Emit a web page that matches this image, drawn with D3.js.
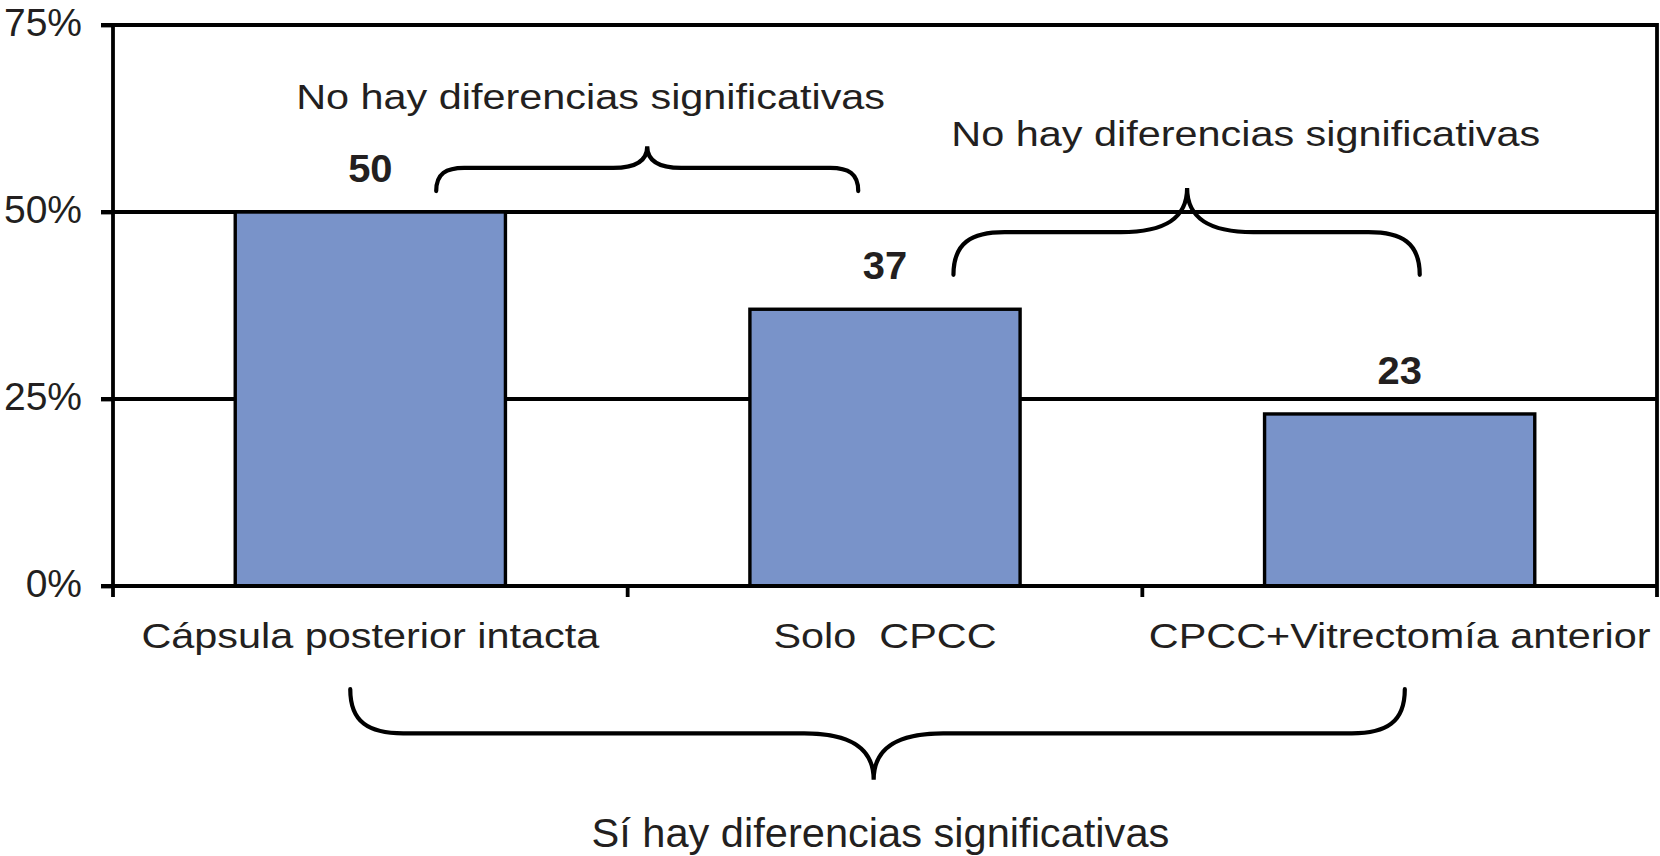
<!DOCTYPE html>
<html>
<head>
<meta charset="utf-8">
<script src="https://cdn.jsdelivr.net/npm/d3@7"></script>
<style>
  html, body { margin: 0; padding: 0; background: #fff; }
  svg { display: block; }
  text { font-family: "Liberation Sans", Arial, Helvetica, sans-serif; fill: #231f20; white-space: pre; }
</style>
</head>
<body>
<svg id="chart" width="1660" height="856"></svg>
<script>
// ---- data ----
const categories = ["Cápsula posterior intacta", "Solo  CPCC", "CPCC+Vitrectomía anterior"];
const values = [50, 37, 23];
const yTicks = [0, 25, 50, 75];
const yTickLabels = ["0%", "25%", "50%", "75%"];
// braces: span in category-index units, heights in value units (%)
const braceLabels = ["No hay diferencias significativas", "No hay diferencias significativas", "Sí hay diferencias significativas"];
const braceFrom = [0.128, 1.133, -0.039];
const braceTo = [0.948, 2.039, 2.010];
const braceTip = [0.538, 1.587, 0.978];
const braceEnd = [52.8, 41.6, -13.8];
const braceLine = [55.9, 47.3, -19.7];
const braceTipY = [58.8, 53.2, -25.9];
const braceLabelX = [0.428, 1.701, 0.991];
const braceLabelY = [63.8, 58.8, -34.9];

(function () {
// ---- layout ----
const svg = d3.select("#chart");
const pLeft = 113, pRight = 1657, pTop = 25, pBottom = 586;
const lw = 3.8;

const x = d3.scaleBand().domain(categories).range([pLeft, pRight]).paddingInner(0.475).paddingOuter(0.2375);
const y = d3.scaleLinear().domain([0, 75]).range([pBottom, pTop]);
const xIdx = d3.scaleLinear().domain([0, categories.length - 1])
  .range([x(categories[0]) + x.bandwidth() / 2, x(categories[categories.length - 1]) + x.bandwidth() / 2]);

// gridlines (with left ticks)
svg.append("g").selectAll("line").data(yTicks.filter(d => d > 0)).join("line")
  .attr("x1", pLeft - 12).attr("x2", pRight)
  .attr("y1", d => y(d)).attr("y2", d => y(d))
  .attr("stroke", "#000").attr("stroke-width", lw);

// y axis
const yAxis = d3.axisLeft(y).tickValues(yTicks).tickFormat((d, i) => yTickLabels[i]).tickSize(12).tickPadding(19);
const gy = svg.append("g").attr("transform", `translate(${pLeft},0)`).call(yAxis);
gy.select(".domain").remove();
gy.selectAll(".tick line").attr("stroke", "#000").attr("stroke-width", lw);
gy.selectAll(".tick text").attr("font-size", 39).attr("dy", "0.28em")
  .attr("font-family", "'Liberation Sans', Arial, sans-serif").style("fill", "#231f20");

// bars
svg.append("g").selectAll("rect").data(values).join("rect")
  .attr("x", (d, i) => x(categories[i]))
  .attr("y", d => y(d))
  .attr("width", x.bandwidth())
  .attr("height", d => y(0) - y(d))
  .attr("fill", "#7993c9")
  .attr("stroke", "#000").attr("stroke-width", 3.4);

// axes lines
svg.append("line").attr("x1", pLeft).attr("x2", pLeft).attr("y1", pTop - 1.9).attr("y2", pBottom + 11)
  .attr("stroke", "#000").attr("stroke-width", lw);
svg.append("line").attr("x1", pRight).attr("x2", pRight).attr("y1", pTop - 1.9).attr("y2", pBottom + 11)
  .attr("stroke", "#000").attr("stroke-width", lw);
svg.append("line").attr("x1", pLeft - 12).attr("x2", pRight).attr("y1", y(0)).attr("y2", y(0))
  .attr("stroke", "#000").attr("stroke-width", lw);

// x ticks at band boundaries
const bounds = categories.map(c => x(c) - x.step() * x.paddingInner() / 2);
svg.append("g").selectAll("line").data(bounds.slice(1)).join("line")
  .attr("x1", d => d).attr("x2", d => d).attr("y1", y(0)).attr("y2", y(0) + 11)
  .attr("stroke", "#000").attr("stroke-width", lw);

// x labels (slightly horizontally stretched like the original)
svg.append("g").selectAll("text").data(categories).join("text")
  .attr("transform", d => `translate(${x(d) + x.bandwidth() / 2},648) scale(1.15,1)`)
  .attr("text-anchor", "middle").attr("font-size", 36)
  .text(d => d);

// value labels
svg.append("g").selectAll("text").data(values).join("text")
  .attr("transform", (d, i) => `translate(${x(categories[i]) + x.bandwidth() / 2},${y(d) - 30}) scale(1.05,1)`)
  .attr("text-anchor", "middle").attr("font-size", 38).attr("font-weight", "bold")
  .text(d => d);

// braces
function bracePath(i) {
  const x0 = xIdx(braceFrom[i]), x1 = xIdx(braceTo[i]), xt = xIdx(braceTip[i]);
  const ye = y(braceEnd[i]), yl = y(braceLine[i]), yt = y(braceTipY[i]);
  const h = Math.abs(ye - yl), ht = Math.abs(yt - yl);
  const rx = Math.max(28, h * 1.2), tx = Math.max(34, ht * 1.5);
  const p = d3.path();
  p.moveTo(x0, ye);
  p.bezierCurveTo(x0, yl + (ye - yl) * 0.25, x0 + rx * 0.35, yl, x0 + rx, yl);
  p.lineTo(xt - tx, yl);
  p.bezierCurveTo(xt - tx * 0.35, yl, xt, yl - (yl - yt) * 0.3, xt, yt);
  p.bezierCurveTo(xt, yl - (yl - yt) * 0.3, xt + tx * 0.35, yl, xt + tx, yl);
  p.lineTo(x1 - rx, yl);
  p.bezierCurveTo(x1 - rx * 0.35, yl, x1, yl + (ye - yl) * 0.25, x1, ye);
  return p.toString();
}
svg.append("g").selectAll("path").data(braceLabels).join("path")
  .attr("d", (d, i) => bracePath(i))
  .attr("fill", "none").attr("stroke", "#000").attr("stroke-width", 4.2).attr("stroke-linecap", "round");

svg.append("g").selectAll("text").data(braceLabels).join("text")
  .attr("transform", (d, i) => `translate(${xIdx(braceLabelX[i])},${y(braceLabelY[i])}) scale(${i < 2 ? 1.15 : 1.04},1)`)
  .attr("text-anchor", "middle").attr("font-size", (d, i) => i < 2 ? 36 : 40)
  .text(d => d);
})();
</script>
</body>
</html>
